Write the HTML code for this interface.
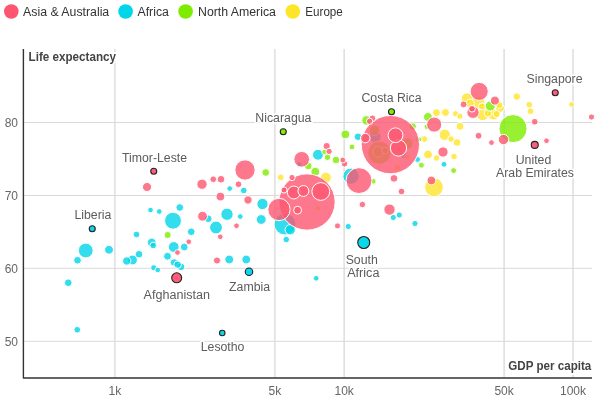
<!DOCTYPE html>
<html><head><meta charset="utf-8"><title>Life expectancy vs GDP per capita</title>
<style>
html,body{margin:0;padding:0;background:#fff;}
body{width:600px;height:403px;overflow:hidden;font-family:"Liberation Sans",sans-serif;}
svg{display:block;will-change:transform;font-family:"Liberation Sans",sans-serif;}
.leg text{font-size:12.3px;fill:#333;}
.grid line{stroke:#dadada;stroke-width:1;}
.grid line.v{stroke:#d8d8d8;stroke-width:1.3;}
.tick text{font-size:12px;fill:#666;}
.ttl text{font-size:12px;font-weight:bold;fill:#444;paint-order:stroke;stroke:#fff;stroke-width:4px;stroke-linejoin:round;}
.bub circle{fill-opacity:.8;stroke:#fff;stroke-width:1;stroke-opacity:1;}
.hl circle{fill-opacity:.96;stroke:#222;stroke-width:1.1;}
.lab text{font-size:12.3px;fill:#5c5c5c;paint-order:stroke;stroke:#fff;stroke-width:3.5px;stroke-linejoin:round;}
</style></head><body>
<svg width="600" height="403" viewBox="0 0 600 403">
<rect width="600" height="403" fill="#fff"/>
<g class="leg" opacity="0.999">
<circle cx="11.3" cy="11.5" r="7.3" fill="#fe5671"/><text x="23.1" y="15.8">Asia &amp; Australia</text>
<circle cx="125.6" cy="11.5" r="7.3" fill="#00d5e9"/><text x="137.5" y="15.8">Africa</text>
<circle cx="185.6" cy="11.5" r="7.3" fill="#7eec00"/><text x="198" y="15.8">North America</text>
<circle cx="292.8" cy="11.5" r="7.3" fill="#ffe52a"/><text x="305.3" y="15.6" textLength="37.5" lengthAdjust="spacingAndGlyphs">Europe</text>
</g>
<g class="grid"><line class="v" x1="114.9" y1="49" x2="114.9" y2="377.5"/><line class="v" x1="274.9" y1="49" x2="274.9" y2="377.5"/><line class="v" x1="344.15" y1="49" x2="344.15" y2="377.5"/><line class="v" x1="504.1" y1="49" x2="504.1" y2="377.5"/><line class="v" x1="573.0" y1="49" x2="573.0" y2="377.5"/><line x1="23.5" y1="122.5" x2="592" y2="122.5"/><line x1="23.5" y1="195.5" x2="592" y2="195.5"/><line x1="23.5" y1="268.3" x2="592" y2="268.3"/><line x1="23.5" y1="341.3" x2="592" y2="341.3"/></g>
<g class="ttl" opacity="0.999"><text x="28.6" y="61.3" textLength="87.4" lengthAdjust="spacingAndGlyphs">Life expectancy</text><text x="508.3" y="369.8" textLength="83" lengthAdjust="spacingAndGlyphs">GDP per capita</text></g>
<g class="bub"><circle cx="285" cy="224" r="10.95" fill="#00d5e9"/><circle cx="173" cy="220.75" r="8.45" fill="#00d5e9"/><circle cx="351" cy="176.2" r="8.15" fill="#00d5e9"/><circle cx="85.75" cy="250.5" r="7.4" fill="#00d5e9"/><circle cx="216" cy="227.5" r="6.4" fill="#00d5e9"/><circle cx="227" cy="214.25" r="6.15" fill="#00d5e9"/><circle cx="375.25" cy="136.75" r="5.9" fill="#00d5e9"/><circle cx="262.5" cy="204" r="5.65" fill="#00d5e9"/><circle cx="318" cy="154.75" r="5.45" fill="#00d5e9"/><circle cx="173.75" cy="247" r="5.4" fill="#00d5e9"/><circle cx="290.25" cy="229.75" r="5.15" fill="#00d5e9"/><circle cx="132.5" cy="260" r="4.9" fill="#00d5e9"/><circle cx="261.25" cy="219.5" r="4.9" fill="#00d5e9"/><circle cx="109" cy="249.75" r="4.4" fill="#00d5e9"/><circle cx="151.75" cy="242.5" r="4.4" fill="#00d5e9"/><circle cx="229.25" cy="259.5" r="4.4" fill="#00d5e9"/><circle cx="246.25" cy="259.5" r="4.4" fill="#00d5e9"/><circle cx="126.75" cy="261" r="4.15" fill="#00d5e9"/><circle cx="167.5" cy="256.25" r="3.9" fill="#00d5e9"/><circle cx="184.25" cy="247" r="3.9" fill="#00d5e9"/><circle cx="174.1" cy="262.5" r="3.85" fill="#00d5e9"/><circle cx="181" cy="266.8" r="3.85" fill="#00d5e9"/><circle cx="177.6" cy="264.6" r="3.75" fill="#00d5e9"/><circle cx="68.25" cy="282.75" r="3.85" fill="#00d5e9"/><circle cx="77.5" cy="260.25" r="3.85" fill="#00d5e9"/><circle cx="139" cy="254.25" r="3.85" fill="#00d5e9"/><circle cx="179.75" cy="207.5" r="3.85" fill="#00d5e9"/><circle cx="191.25" cy="231.75" r="3.85" fill="#00d5e9"/><circle cx="208.25" cy="218.75" r="3.85" fill="#00d5e9"/><circle cx="358" cy="136.75" r="3.85" fill="#00d5e9"/><circle cx="77.25" cy="329.75" r="3.35" fill="#00d5e9"/><circle cx="136.5" cy="234.5" r="3.35" fill="#00d5e9"/><circle cx="153.25" cy="245.5" r="3.35" fill="#00d5e9"/><circle cx="243.75" cy="190.5" r="3.35" fill="#00d5e9"/><circle cx="403.75" cy="155.25" r="3.35" fill="#00d5e9"/><circle cx="286.25" cy="239.5" r="3.25" fill="#00d5e9"/><circle cx="153.75" cy="267.75" r="3.1" fill="#00d5e9"/><circle cx="393.25" cy="217.5" r="3.1" fill="#00d5e9"/><circle cx="399.25" cy="215" r="3.1" fill="#00d5e9"/><circle cx="415" cy="223.5" r="3.1" fill="#00d5e9"/><circle cx="348.25" cy="226.5" r="3.1" fill="#00d5e9"/><circle cx="417.5" cy="159.5" r="2.95" fill="#00d5e9"/><circle cx="444" cy="164.3" r="2.95" fill="#00d5e9"/><circle cx="150.5" cy="210" r="2.85" fill="#00d5e9"/><circle cx="159.25" cy="211.5" r="2.85" fill="#00d5e9"/><circle cx="157.75" cy="270" r="2.85" fill="#00d5e9"/><circle cx="240.25" cy="216.5" r="2.85" fill="#00d5e9"/><circle cx="229.75" cy="188.5" r="2.85" fill="#00d5e9"/><circle cx="316.2" cy="278.3" r="2.85" fill="#00d5e9"/><circle cx="299.25" cy="164.5" r="2.85" fill="#00d5e9"/><circle cx="434" cy="187.25" r="9.35" fill="#ffe52a"/><circle cx="478.25" cy="102.75" r="6.65" fill="#ffe52a"/><circle cx="482.75" cy="114.5" r="6.15" fill="#ffe52a"/><circle cx="444.7" cy="134.75" r="5.65" fill="#ffe52a"/><circle cx="467" cy="98.5" r="5.65" fill="#ffe52a"/><circle cx="493.25" cy="114.3" r="5.65" fill="#ffe52a"/><circle cx="325.8" cy="177.7" r="5.45" fill="#ffe52a"/><circle cx="428" cy="154.5" r="4.4" fill="#ffe52a"/><circle cx="470" cy="103.5" r="4.4" fill="#ffe52a"/><circle cx="500" cy="108" r="4.4" fill="#ffe52a"/><circle cx="436.5" cy="112.7" r="3.95" fill="#ffe52a"/><circle cx="445.5" cy="112.5" r="3.95" fill="#ffe52a"/><circle cx="460" cy="126.3" r="3.95" fill="#ffe52a"/><circle cx="457" cy="142.5" r="3.85" fill="#ffe52a"/><circle cx="488" cy="113.25" r="3.85" fill="#ffe52a"/><circle cx="516.8" cy="96.6" r="3.75" fill="#ffe52a"/><circle cx="482" cy="106.5" r="3.55" fill="#ffe52a"/><circle cx="496.7" cy="114" r="3.55" fill="#ffe52a"/><circle cx="499.25" cy="105" r="3.55" fill="#ffe52a"/><circle cx="280.75" cy="177.3" r="3.35" fill="#ffe52a"/><circle cx="424.5" cy="139" r="3.35" fill="#ffe52a"/><circle cx="529.25" cy="104.75" r="3.35" fill="#ffe52a"/><circle cx="530.5" cy="111.25" r="3.35" fill="#ffe52a"/><circle cx="397.5" cy="167.5" r="3.35" fill="#ffe52a"/><circle cx="451" cy="139" r="3.25" fill="#ffe52a"/><circle cx="436.5" cy="158" r="3.25" fill="#ffe52a"/><circle cx="454" cy="156.5" r="3.25" fill="#ffe52a"/><circle cx="455.5" cy="113.75" r="3.1" fill="#ffe52a"/><circle cx="460" cy="116.2" r="3.1" fill="#ffe52a"/><circle cx="571.5" cy="104.5" r="2.85" fill="#ffe52a"/><circle cx="407.5" cy="156.9" r="2.75" fill="#ffe52a"/><circle cx="318" cy="208.3" r="2.65" fill="#ffe52a"/><circle cx="513" cy="128.6" r="14.05" fill="#7eec00"/><circle cx="379.3" cy="152.7" r="11.65" fill="#7eec00"/><circle cx="407.5" cy="143.5" r="5.65" fill="#7eec00"/><circle cx="374.5" cy="130.2" r="5.35" fill="#7eec00"/><circle cx="378.1" cy="151.9" r="5.25" fill="#7eec00"/><circle cx="490.25" cy="106" r="5.05" fill="#7eec00"/><circle cx="366.5" cy="120.4" r="4.75" fill="#7eec00"/><circle cx="315.3" cy="171.7" r="4.4" fill="#7eec00"/><circle cx="345.4" cy="134.4" r="4.4" fill="#7eec00"/><circle cx="427.9" cy="116.9" r="4.4" fill="#7eec00"/><circle cx="265.75" cy="172.5" r="3.85" fill="#7eec00"/><circle cx="308.25" cy="166" r="3.85" fill="#7eec00"/><circle cx="336" cy="160" r="3.85" fill="#7eec00"/><circle cx="412.75" cy="126.4" r="3.65" fill="#7eec00"/><circle cx="167.6" cy="235" r="3.6" fill="#7eec00"/><circle cx="385" cy="150.6" r="3.35" fill="#7eec00"/><circle cx="327.5" cy="157.3" r="3.25" fill="#7eec00"/><circle cx="352" cy="147" r="2.95" fill="#7eec00"/><circle cx="421.4" cy="165.2" r="2.95" fill="#7eec00"/><circle cx="453.6" cy="170.6" r="2.95" fill="#7eec00"/><circle cx="427" cy="126.7" r="2.85" fill="#7eec00"/><circle cx="373.25" cy="181.25" r="2.85" fill="#7eec00"/><circle cx="324.4" cy="151.9" r="2.65" fill="#7eec00"/><circle cx="417.3" cy="139.4" r="2.35" fill="#7eec00"/><circle cx="419.6" cy="139.4" r="2.35" fill="#7eec00"/><circle cx="390.4" cy="144.6" r="29.15" fill="#fe5671"/><circle cx="307" cy="202" r="28.15" fill="#fe5671"/><circle cx="359" cy="180.6" r="12.95" fill="#fe5671"/><circle cx="279" cy="209.5" r="11.15" fill="#fe5671"/><circle cx="245" cy="170" r="10.15" fill="#fe5671"/><circle cx="479.2" cy="91.4" r="9.05" fill="#fe5671"/><circle cx="320.8" cy="191.5" r="8.9" fill="#fe5671"/><circle cx="398.5" cy="148" r="8.15" fill="#fe5671"/><circle cx="301.7" cy="159.3" r="7.85" fill="#fe5671"/><circle cx="434.2" cy="124.6" r="7.55" fill="#fe5671"/><circle cx="395.5" cy="135.25" r="7.4" fill="#fe5671"/><circle cx="293.8" cy="192.5" r="6.45" fill="#fe5671"/><circle cx="473" cy="112.3" r="6.15" fill="#fe5671"/><circle cx="389.5" cy="209.6" r="5.65" fill="#fe5671"/><circle cx="303.4" cy="191" r="5.45" fill="#fe5671"/><circle cx="202" cy="184.25" r="5.15" fill="#fe5671"/><circle cx="443" cy="152" r="5.15" fill="#fe5671"/><circle cx="503.5" cy="139.5" r="5.15" fill="#fe5671"/><circle cx="202.5" cy="216.25" r="4.9" fill="#fe5671"/><circle cx="365.25" cy="138.1" r="4.75" fill="#fe5671"/><circle cx="147" cy="187" r="4.55" fill="#fe5671"/><circle cx="494.9" cy="100.6" r="4.55" fill="#fe5671"/><circle cx="220.4" cy="196.6" r="4.4" fill="#fe5671"/><circle cx="431.4" cy="180.5" r="4.4" fill="#fe5671"/><circle cx="248" cy="200" r="4.15" fill="#fe5671"/><circle cx="297.6" cy="210.2" r="3.95" fill="#fe5671"/><circle cx="221" cy="179.25" r="3.85" fill="#fe5671"/><circle cx="394" cy="178.4" r="3.85" fill="#fe5671"/><circle cx="326.7" cy="146.1" r="3.65" fill="#fe5671"/><circle cx="217" cy="260.5" r="3.6" fill="#fe5671"/><circle cx="478.6" cy="135.8" r="3.45" fill="#fe5671"/><circle cx="463.6" cy="104.4" r="3.45" fill="#fe5671"/><circle cx="213.25" cy="179.25" r="3.35" fill="#fe5671"/><circle cx="238.5" cy="184.25" r="3.35" fill="#fe5671"/><circle cx="401.5" cy="191.5" r="3.35" fill="#fe5671"/><circle cx="372.4" cy="118.3" r="3.35" fill="#fe5671"/><circle cx="472" cy="108.75" r="3.35" fill="#fe5671"/><circle cx="534.75" cy="121.75" r="3.35" fill="#fe5671"/><circle cx="344.5" cy="163.8" r="3.25" fill="#fe5671"/><circle cx="362.4" cy="204.5" r="3.25" fill="#fe5671"/><circle cx="329.1" cy="151.4" r="3.15" fill="#fe5671"/><circle cx="369.6" cy="121.3" r="3.15" fill="#fe5671"/><circle cx="292" cy="177.5" r="3.1" fill="#fe5671"/><circle cx="284" cy="190" r="3.1" fill="#fe5671"/><circle cx="591.5" cy="117" r="3.1" fill="#fe5671"/><circle cx="337.5" cy="225.9" r="3.05" fill="#fe5671"/><circle cx="342.75" cy="160" r="2.95" fill="#fe5671"/><circle cx="188.75" cy="241.75" r="2.85" fill="#fe5671"/><circle cx="177.5" cy="252.5" r="2.85" fill="#fe5671"/><circle cx="220.25" cy="236.75" r="2.85" fill="#fe5671"/><circle cx="236.5" cy="225.75" r="2.85" fill="#fe5671"/><circle cx="491.5" cy="142.6" r="2.85" fill="#fe5671"/><circle cx="546.5" cy="140.75" r="2.85" fill="#fe5671"/></g>
<polyline points="23.4,49 23.4,378 592,378" fill="none" stroke="#333" stroke-width="1.4" stroke-linejoin="round"/>
<g class="tick" opacity="0.999"><text x="114.9" y="394.7" text-anchor="middle">1k</text><text x="274.9" y="394.7" text-anchor="middle">5k</text><text x="344.15" y="394.7" text-anchor="middle">10k</text><text x="504.1" y="394.7" text-anchor="middle">50k</text><text x="573.0" y="394.7" text-anchor="middle">100k</text><text x="18" y="126.8" text-anchor="end">80</text><text x="18" y="199.8" text-anchor="end">70</text><text x="18" y="272.6" text-anchor="end">60</text><text x="18" y="345.6" text-anchor="end">50</text></g>
<g class="lab" opacity="0.999"><text x="554.5" y="82.8" text-anchor="middle">Singapore</text><text x="533.5" y="163.8" text-anchor="middle">United</text><text x="535" y="176.8" text-anchor="middle">Arab Emirates</text><text x="391.5" y="101.8" text-anchor="middle">Costa Rica</text><text x="283.4" y="122.3" text-anchor="middle">Nicaragua</text><text x="154.5" y="161.8" text-anchor="middle">Timor-Leste</text><text x="92.9" y="219.3" text-anchor="middle">Liberia</text><text x="176.8" y="298.55" text-anchor="middle" textLength="66.4" lengthAdjust="spacingAndGlyphs">Afghanistan</text><text x="249.6" y="291.3" text-anchor="middle">Zambia</text><text x="222.6" y="351.3" text-anchor="middle">Lesotho</text><text x="361.75" y="263.55" text-anchor="middle">South</text><text x="363.3" y="276.8" text-anchor="middle" textLength="32.3" lengthAdjust="spacingAndGlyphs">Africa</text></g>
<g class="hl"><circle cx="363.75" cy="242.5" r="6" fill="#00d5e9"/><circle cx="249" cy="271.75" r="3.75" fill="#00d5e9"/><circle cx="92.25" cy="228.75" r="3" fill="#00d5e9"/><circle cx="222.25" cy="333" r="2.75" fill="#00d5e9"/><circle cx="283.25" cy="131.75" r="3" fill="#7eec00"/><circle cx="391.5" cy="111.7" r="3" fill="#7eec00"/><circle cx="176.7" cy="277.8" r="5" fill="#fe5671"/><circle cx="534.75" cy="144.9" r="3.5" fill="#fe5671"/><circle cx="153.75" cy="171.25" r="3" fill="#fe5671"/><circle cx="555.25" cy="92.75" r="3" fill="#fe5671"/></g>
</svg>
</body></html>
